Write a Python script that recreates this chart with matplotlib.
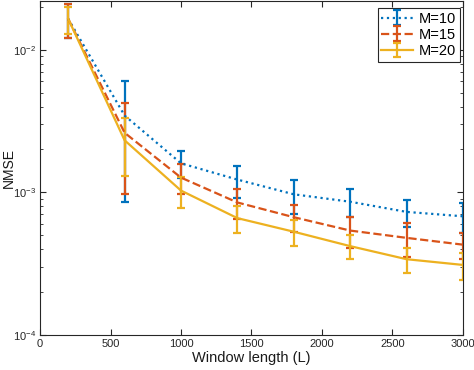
import numpy as np
import matplotlib
matplotlib.use("Agg")
import matplotlib.pyplot as plt

# window lengths
L = [200, 600, 1000, 1400, 1800, 2200, 2600, 3000]

# NMSE mean and error
m10 = [0.0165, 0.00346, 0.00160, 0.00123, 0.00097, 0.00086, 0.00073, 0.00068]
m10_err = [0.0044, 0.00261, 0.00034, 0.00031, 0.00026, 0.00019, 0.00016, 0.00016]
m15 = [0.0165, 0.00262, 0.00127, 0.00085, 0.00067, 0.00054, 0.00048, 0.00043]
m15_err = [0.0044, 0.00164, 0.00030, 0.00020, 0.00014, 0.00013, 0.00013, 0.00009]
m20 = [0.0165, 0.00232, 0.00103, 0.00066, 0.00053, 0.00042, 0.00034, 0.00031]
m20_err = [0.0036, 0.00102, 0.00025, 0.00014, 0.00011, 0.00008, 0.00007, 0.000065]

labels = ["M=10", "M=15", "M=20"]

plt.rcParams['font.family'] = ['Liberation Sans', 'DejaVu Sans']
plt.rcParams['mathtext.fontset'] = 'custom'
plt.rcParams['mathtext.rm'] = 'Liberation Sans'
plt.rcParams['mathtext.it'] = 'Liberation Sans:italic'

fig = plt.figure(figsize=(4.74, 3.70), dpi=100)
ax = fig.add_axes([40 / 474, 35 / 370, 423 / 474, 334 / 370])

# MATLAB default colours
blue = "#0072BD"
red = "#D95319"
yellow = "#EDB120"

ax.errorbar(L, m10, yerr=m10_err, color=blue, linestyle=":", linewidth=1.6,
            capsize=3, elinewidth=1.6, capthick=1.6, label=labels[0])
ax.errorbar(L, m15, yerr=m15_err, color=red, linestyle="--", linewidth=1.6,
            capsize=3, elinewidth=1.6, capthick=1.6, label=labels[1])
ax.errorbar(L, m20, yerr=m20_err, color=yellow, linestyle="-", linewidth=1.6,
            capsize=3, elinewidth=1.6, capthick=1.6, label=labels[2])

ax.set_yscale("log")
ax.set_xlim(0, 3000)
ax.set_ylim(1e-4, 0.022)
ax.set_xticks(np.arange(0, 3001, 500))

ax.set_xlabel("Window length (L)", fontsize=10.5, color="0.1", labelpad=1)
ax.set_ylabel("NMSE", fontsize=10, color="0.1")
ax.yaxis.set_label_coords(-0.057, 0.5)

ax.tick_params(which="both", direction="in", top=True, right=True,
               labelsize=8, colors="0.15", pad=3)
ax.tick_params(which="major", length=4)
ax.tick_params(which="minor", length=2)
for s in ax.spines.values():
    s.set_color("0.15")
    s.set_linewidth(0.8)

leg = ax.legend(loc="upper right", bbox_to_anchor=(0.993, 0.979),
                borderaxespad=0, fontsize=10.5, fancybox=False,
                framealpha=1, edgecolor="0.15", handlelength=2.2,
                borderpad=0.25, labelspacing=0.15, handletextpad=0.4)
leg.get_frame().set_linewidth(0.8)

fig.savefig("out.png", dpi=100)
